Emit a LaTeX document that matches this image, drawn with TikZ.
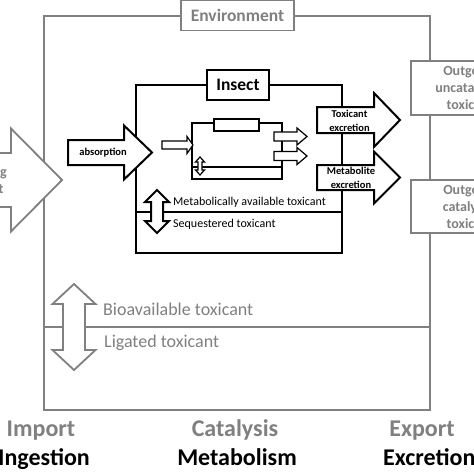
\documentclass[tikz,border=0pt]{standalone}
\usepackage{fontspec}
\setmainfont{Carlito}
\definecolor{envgray}{RGB}{128,128,128}
\newcommand\RArr[7]{% style, x0, xb, xt, yc, hs, hh
 \draw[#1] ({#2},{#5-#6}) -- ({#3},{#5-#6}) -- ({#3},{#5-#7}) -- ({#4},{#5}) -- ({#3},{#5+#7}) -- ({#3},{#5+#6}) -- ({#2},{#5+#6}) -- cycle;}
\newcommand\VDArr[7]{% style, xc, ytop, ybot, hs, hh, hl
 \draw[#1] ({#2-#5},{#3+#7}) -- ({#2-#6},{#3+#7}) -- ({#2},{#3}) -- ({#2+#6},{#3+#7}) -- ({#2+#5},{#3+#7}) -- ({#2+#5},{#4-#7}) -- ({#2+#6},{#4-#7}) -- ({#2},{#4}) -- ({#2-#6},{#4-#7}) -- ({#2-#5},{#4-#7}) -- cycle;}
\tikzset{
  gline/.style={draw=envgray, line width=2pt},
  bline/.style={draw=black, line width=2pt},
  innerline/.style={draw=black, line width=1.3pt},
  garr/.style={draw=envgray, line width=1.8pt, fill=white, line join=miter},
  barr/.style={draw=black, line width=2pt, fill=white, line join=miter},
  tarr/.style={draw=black, line width=1.2pt, fill=white, line join=miter},
  lbl/.style={inner sep=0pt, text height=0.6em, text depth=0pt},
  gbox/.style={draw=envgray, line width=1.8pt, fill=white, inner sep=0pt, text=envgray},
}
\begin{document}
\begin{tikzpicture}[x=1pt,y=-1pt]
\useasboundingbox (0,0) rectangle (474,474);
\clip (0,0) rectangle (474,474);
\fill[white] (0,0) rectangle (474,474);

% ---- environment frame (gray)
\node[gbox, minimum width=113pt, minimum height=30pt, font=\fontsize{17.5}{21}\selectfont\bfseries] (env) at (237.5,15.5) {Environment};
\coordinate (etl) at (44,15.5);
\coordinate (ebl) at (44,410);
\coordinate (ebr) at (430,410);
\coordinate (etr) at (430,15.5);
\draw[gline] (env.west) -- (etl) -- (ebl) -- (ebr) -- (etr) -- (env.east);
\coordinate (gl) at (44,327);
\coordinate (gr) at (430,327);
\draw[gline] (gl) -- (gr);

% outgoing boxes
\node[gbox, minimum width=118pt, minimum height=54pt, align=center, font=\fontsize{14}{17}\selectfont\bfseries] (out1) at (470,88) {Outgoing\\uncatalysed\\toxicant};
\node[gbox, minimum width=118pt, minimum height=53pt, align=center, font=\fontsize{14}{17}\selectfont\bfseries] (out2) at (470,206.5) {Outgoing\\catalysed\\toxicant};

% incoming arrow
\RArr{garr}{-20}{11}{62}{180}{27}{51.5}
\node[inner sep=0pt, align=center, text=envgray, font=\fontsize{14}{17}\selectfont\bfseries] (inc) at (-20,180.5) {Incoming\\toxicant};

% bioavailable / ligated
\VDArr{garr}{74}{284}{370}{11}{21.5}{20}
\node[lbl, anchor=west, text=envgray, font=\fontsize{18}{21}\selectfont] (bio) at (103,312) {Bioavailable toxicant};
\node[lbl, anchor=west, text=envgray, font=\fontsize{18}{21}\selectfont] (lig) at (104,344) {Ligated toxicant};

% ---- insect frame (black)
\node[draw=black, line width=2pt, fill=white, inner sep=0pt, minimum width=62pt, minimum height=30pt, font=\fontsize{17.5}{21}\selectfont\bfseries] (ins) at (238,84.5) {Insect};
\coordinate (itl) at (136,84.5);
\coordinate (ibl) at (136,253);
\coordinate (ibr) at (342,253);
\coordinate (itr) at (342,84.5);
\draw[bline] (ins.west) -- (itl) -- (ibl) -- (ibr) -- (itr) -- (ins.east);
\coordinate (ml) at (136,212);
\coordinate (mr) at (342,212);
\draw[bline] (ml) -- (mr);

% absorption
\RArr{barr}{68}{124}{152}{152.5}{12.5}{27}
\node[lbl, font=\fontsize{10.5}{13}\selectfont\bfseries] (abs) at (103,152.5) {absorption};

% excretion arrows
\RArr{barr}{317}{374}{400}{120}{13}{27}
\node[inner sep=0pt, align=center, font=\fontsize{10.5}{14}\selectfont\bfseries] (tex) at (349.5,120.5) {Toxicant\\excretion};
\RArr{barr}{317}{374}{400}{177.5}{12.5}{26}
\node[inner sep=0pt, align=center, font=\fontsize{10.5}{14}\selectfont\bfseries] (mex) at (351,178) {Metabolite\\excretion};

% metabolically available / sequestered
\VDArr{barr}{157}{190}{233}{6}{12}{12}
\node[lbl, anchor=west, font=\fontsize{12}{14}\selectfont] (mav) at (173,202) {Metabolically available toxicant};
\node[lbl, anchor=west, font=\fontsize{12}{14}\selectfont] (seq) at (173,224) {Sequestered toxicant};

% inner mini diagram
\coordinate (ntl) at (192,123);
\coordinate (nbr) at (282,179);
\draw[innerline] (ntl) rectangle (nbr);
\coordinate (nml) at (192,167);
\coordinate (nmr) at (282,167);
\draw[innerline] (nml) -- (nmr);
\node[draw=black, line width=1.3pt, fill=white, inner sep=0pt, minimum width=45pt, minimum height=12pt] (enz) at (236.5,125) {};
\RArr{tarr}{162}{187}{193}{145}{4}{8.5}
\RArr{tarr}{274}{297}{307}{136.5}{4.5}{8.5}
\RArr{tarr}{274}{297}{307}{156}{4.5}{8.5}
\VDArr{tarr}{200}{157}{175}{2}{4.5}{5}

% ---- bottom labels
\node[lbl, text=envgray, font=\fontsize{24}{29}\selectfont\bfseries] (imp) at (41,433) {Import};
\node[lbl, font=\fontsize{24}{29}\selectfont\bfseries] (ing) at (44,462) {Ingestion};
\node[lbl, text=envgray, font=\fontsize{24}{29}\selectfont\bfseries] (cat) at (235,433) {Catalysis};
\node[lbl, font=\fontsize{24}{29}\selectfont\bfseries] (met) at (237,462) {Metabolism};
\node[lbl, text=envgray, font=\fontsize{24}{29}\selectfont\bfseries] (exp) at (422,433) {Export};
\node[lbl, anchor=west, font=\fontsize{24}{29}\selectfont\bfseries] (exc) at (383,462) {Excretion};
\end{tikzpicture}
\end{document}
